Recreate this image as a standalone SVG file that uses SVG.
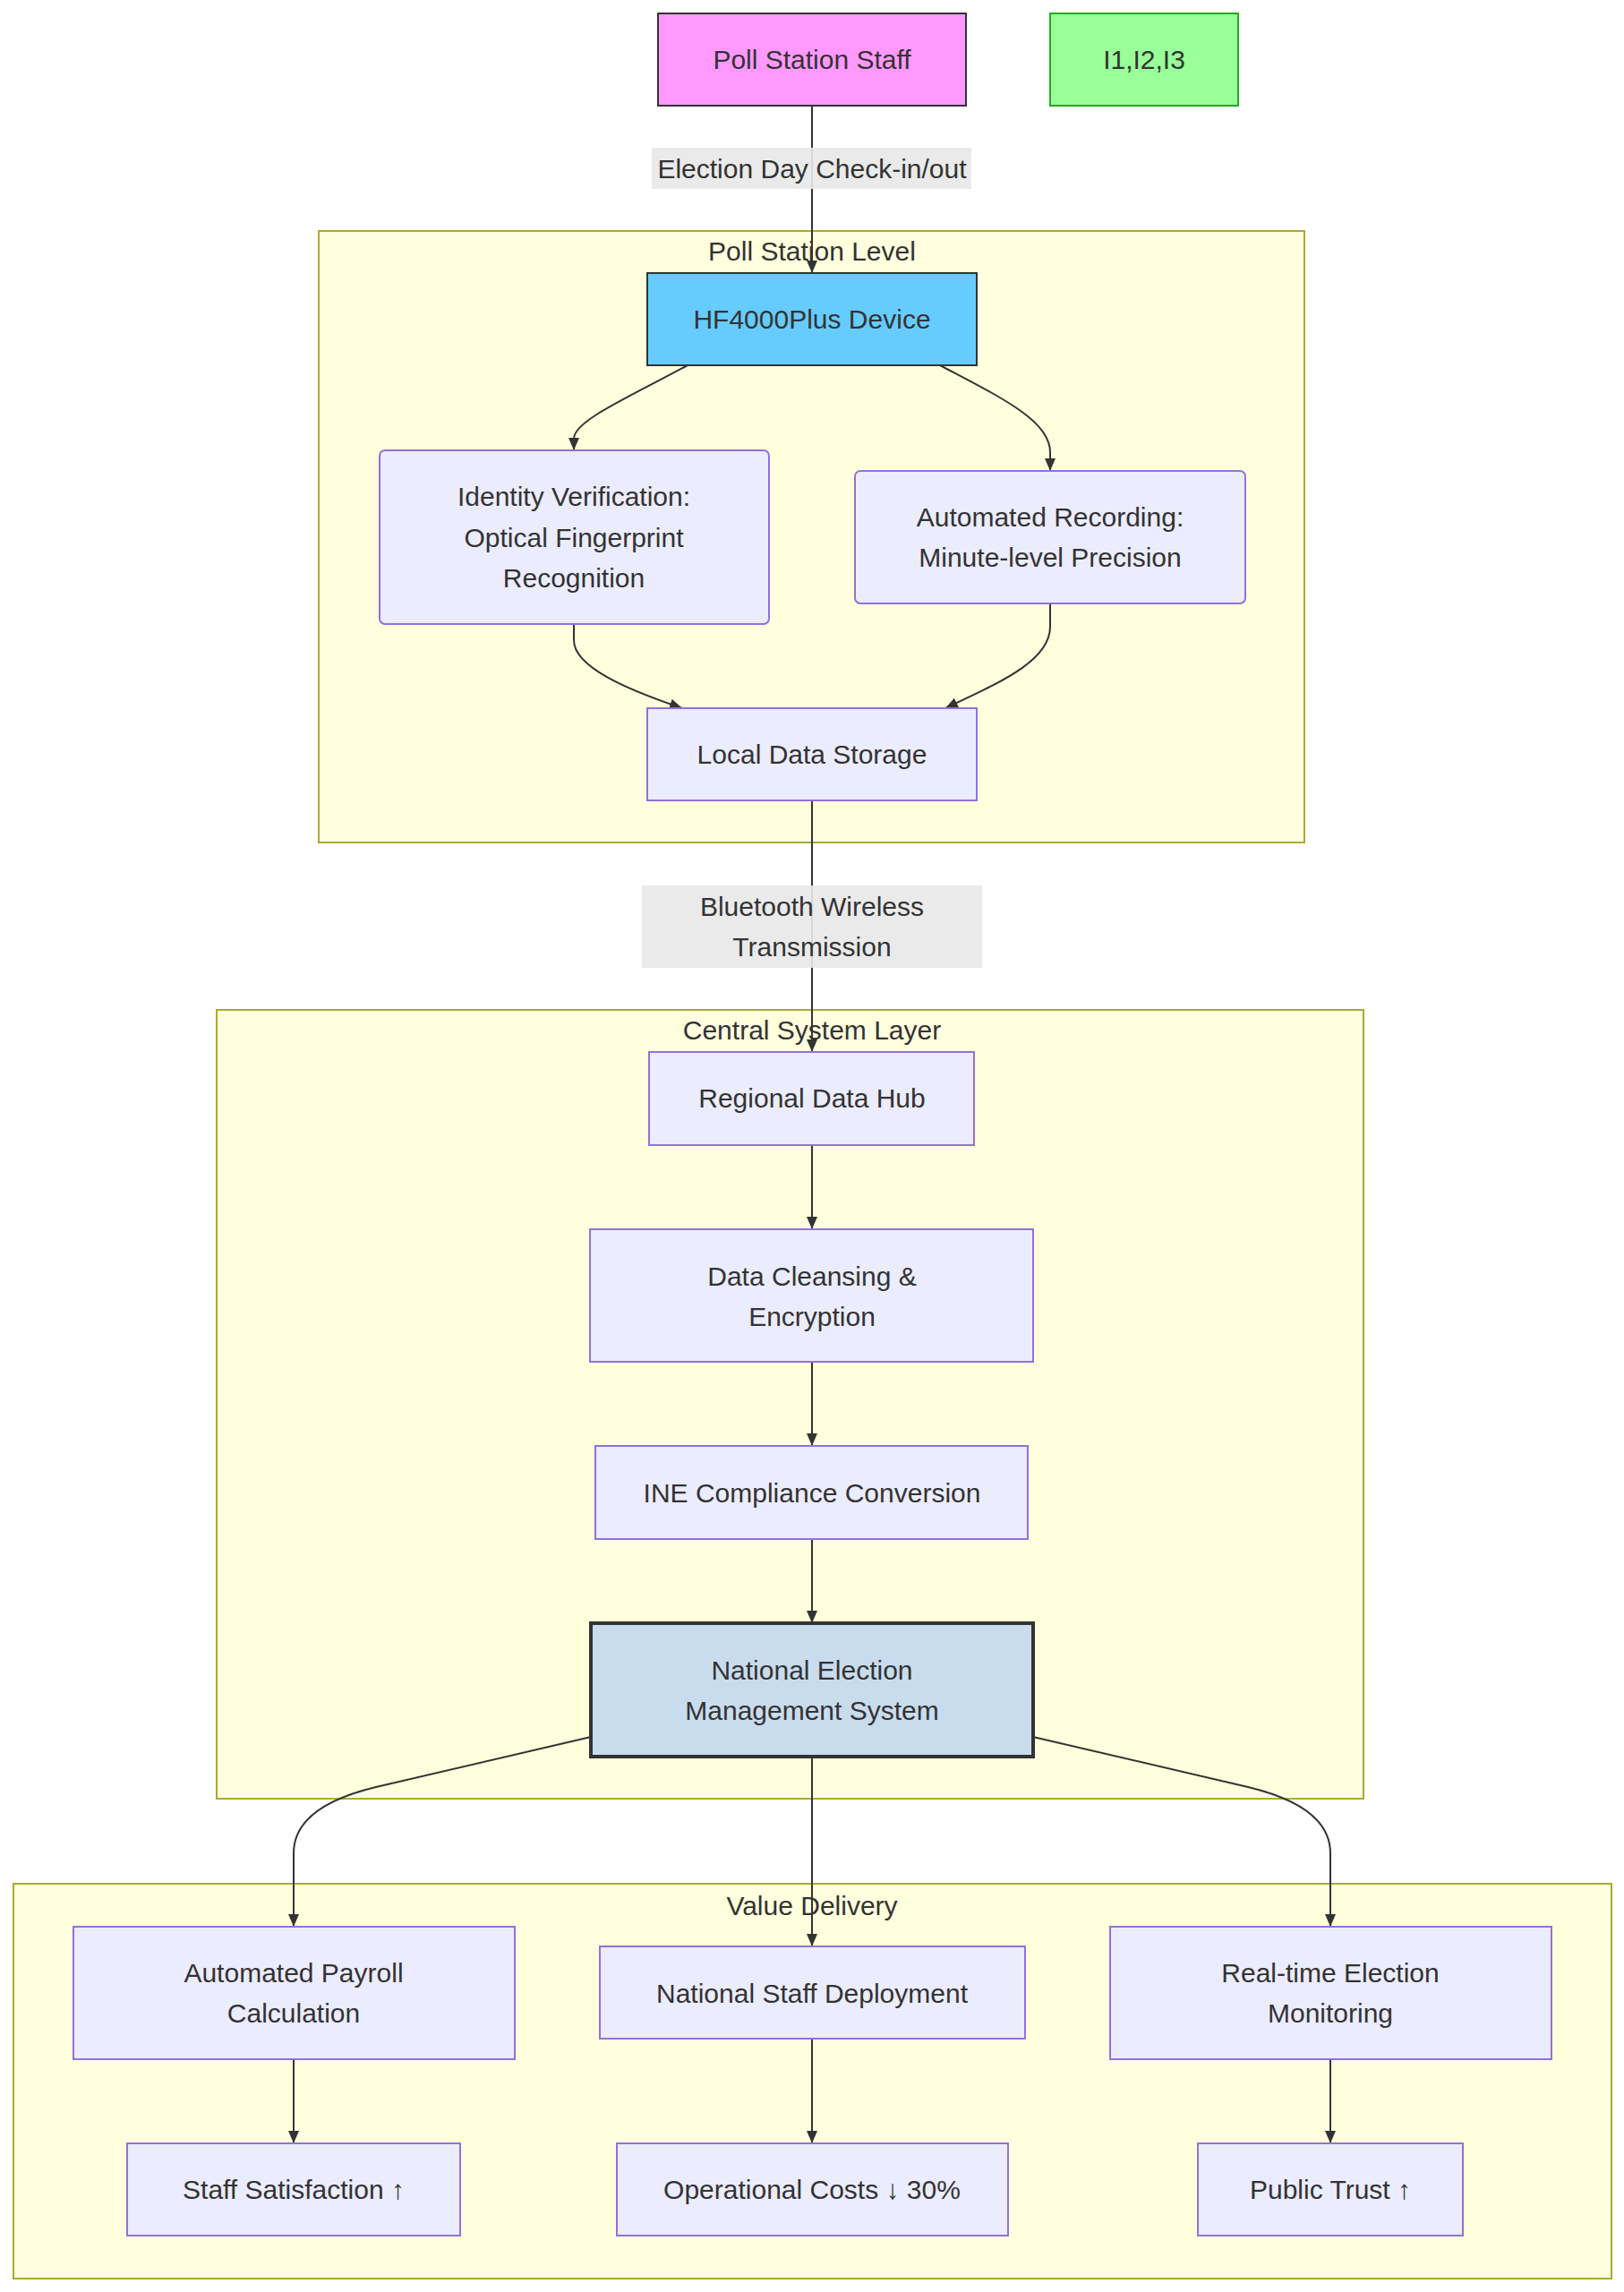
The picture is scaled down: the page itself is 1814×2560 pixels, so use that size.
<svg xmlns="http://www.w3.org/2000/svg" width="1814" height="2560" viewBox="0 0 1814 2560">
<defs>
<style>
.cluster{fill:#ffffde;stroke:#aaaa33;stroke-width:2}
.node{fill:#ececff;stroke:#9370db;stroke-width:2}
.t{font-family:"Liberation Sans",Arial,sans-serif;font-size:30px;fill:#333;text-anchor:middle;dominant-baseline:central}
.edge{fill:none;stroke:#333;stroke-width:2}
.lbl{fill:#e8e8e8;opacity:0.9}
</style>
<marker id="arr" markerUnits="userSpaceOnUse" markerWidth="14" markerHeight="12" refX="14" refY="6" orient="auto">
<path d="M0,0 L14,6 L0,12 z" fill="#333"/>
</marker>
</defs>
<rect width="1814" height="2560" fill="#ffffff"/>

<g id="cluster-poll">
<rect class="cluster" x="356" y="258" width="1101" height="683"/>
<text class="t" x="907" y="280">Poll Station Level</text>
</g>
<g id="cluster-central">
<rect class="cluster" x="242" y="1128" width="1281" height="881"/>
<text class="t" x="907" y="1150">Central System Layer</text>
</g>
<g id="cluster-value">
<rect class="cluster" x="15" y="2104" width="1785" height="441"/>
<text class="t" x="907" y="2128">Value Delivery</text>
</g>

<g id="connectors">
<path class="edge" d="M907,118 L907,305" marker-end="url(#arr)"/>
<path class="edge" d="M768,408 C700,445 641,470 641,490 L641,503" marker-end="url(#arr)"/>
<path class="edge" d="M1050,408 C1120,445 1173,470 1173,505 L1173,526" marker-end="url(#arr)"/>
<path class="edge" d="M641,697 L641,715 C641,745 700,770 762,791" marker-end="url(#arr)"/>
<path class="edge" d="M1173,674 L1173,700 C1173,740 1110,765 1056,791" marker-end="url(#arr)"/>
<path class="edge" d="M907,894 L907,1175" marker-end="url(#arr)"/>
<path class="edge" d="M907,1279 L907,1373" marker-end="url(#arr)"/>
<path class="edge" d="M907,1521 L907,1615" marker-end="url(#arr)"/>
<path class="edge" d="M907,1719 L907,1813" marker-end="url(#arr)"/>
<path class="edge" d="M660,1940 L420,1996 Q328,2018 328,2070 L328,2152" marker-end="url(#arr)"/>
<path class="edge" d="M907,1962 L907,2174" marker-end="url(#arr)"/>
<path class="edge" d="M1154,1940 L1394,1996 Q1486,2018 1486,2070 L1486,2152" marker-end="url(#arr)"/>
<path class="edge" d="M328,2300 L328,2394" marker-end="url(#arr)"/>
<path class="edge" d="M907,2277 L907,2394" marker-end="url(#arr)"/>
<path class="edge" d="M1486,2300 L1486,2394" marker-end="url(#arr)"/>
<g id="label-checkin">
<rect class="lbl" x="728" y="165" width="357" height="46"/>
<text class="t" x="907" y="188">Election Day Check-in/out</text>
</g>
<g id="label-bluetooth">
<rect class="lbl" x="717" y="989" width="380" height="92"/>
<text class="t" x="907" y="1012">Bluetooth Wireless</text>
<text class="t" x="907" y="1057">Transmission</text>
</g>
</g>

<g id="n-staff">
<rect x="735" y="15" width="344" height="103" fill="#ff99ff" stroke="#333" stroke-width="2"/>
<text class="t" x="907" y="66">Poll Station Staff</text>
</g>
<g id="n-i123">
<rect x="1173" y="15" width="210" height="103" fill="#99ff99" stroke="#22aa22" stroke-width="2"/>
<text class="t" x="1278" y="66">I1,I2,I3</text>
</g>
<g id="n-hf4000">
<rect x="723" y="305" width="368" height="103" fill="#66ccff" stroke="#333" stroke-width="2"/>
<text class="t" x="907" y="356">HF4000Plus Device</text>
</g>
<g id="n-identity">
<rect class="node" x="424" y="503" width="435" height="194" rx="6"/>
<text class="t" x="641" y="554">Identity Verification:</text>
<text class="t" x="641" y="600">Optical Fingerprint</text>
<text class="t" x="641" y="645">Recognition</text>
</g>
<g id="n-recording">
<rect class="node" x="955" y="526" width="436" height="148" rx="6"/>
<text class="t" x="1173" y="577">Automated Recording:</text>
<text class="t" x="1173" y="622">Minute-level Precision</text>
</g>
<g id="n-local">
<rect class="node" x="723" y="791" width="368" height="103"/>
<text class="t" x="907" y="842">Local Data Storage</text>
</g>
<g id="n-regional">
<rect class="node" x="725" y="1175" width="363" height="104"/>
<text class="t" x="907" y="1226">Regional Data Hub</text>
</g>
<g id="n-cleansing">
<rect class="node" x="659" y="1373" width="495" height="148"/>
<text class="t" x="907" y="1425">Data Cleansing &amp;</text>
<text class="t" x="907" y="1470">Encryption</text>
</g>
<g id="n-ine">
<rect class="node" x="665" y="1615" width="483" height="104"/>
<text class="t" x="907" y="1667">INE Compliance Conversion</text>
</g>
<g id="n-national">
<rect x="660" y="1813" width="494" height="149" fill="#c9dcee" stroke="#333" stroke-width="4"/>
<text class="t" x="907" y="1865">National Election</text>
<text class="t" x="907" y="1910">Management System</text>
</g>
<g id="n-payroll">
<rect class="node" x="82" y="2152" width="493" height="148"/>
<text class="t" x="328" y="2203">Automated Payroll</text>
<text class="t" x="328" y="2248">Calculation</text>
</g>
<g id="n-deploy">
<rect class="node" x="670" y="2174" width="475" height="103"/>
<text class="t" x="907" y="2226">National Staff Deployment</text>
</g>
<g id="n-monitor">
<rect class="node" x="1240" y="2152" width="493" height="148"/>
<text class="t" x="1486" y="2203">Real-time Election</text>
<text class="t" x="1486" y="2248">Monitoring</text>
</g>
<g id="n-satisfaction">
<rect class="node" x="142" y="2394" width="372" height="103"/>
<text class="t" x="328" y="2445">Staff Satisfaction ↑</text>
</g>
<g id="n-costs">
<rect class="node" x="689" y="2394" width="437" height="103"/>
<text class="t" x="907" y="2445">Operational Costs ↓ 30%</text>
</g>
<g id="n-trust">
<rect class="node" x="1338" y="2394" width="296" height="103"/>
<text class="t" x="1486" y="2445">Public Trust ↑</text>
</g>
</svg>
